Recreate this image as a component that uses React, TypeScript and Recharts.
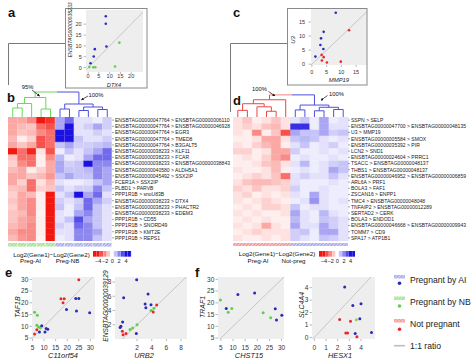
import React from 'react';
import { BarChart, Bar, Cell, XAxis, YAxis, ScatterChart, Scatter, CartesianGrid, ReferenceLine } from 'recharts';

const FONT = "'Liberation Sans', Arial, Helvetica, sans-serif";
const BLUE = '#2b2bb5';
const GREEN = '#5fcf4f';
const RED = '#e62a2a';
const DEN: Record<string, string> = { G: '#6ad85a', B: '#4f4fe0', R: '#ee4444', P: '#f28484' };

// ---------- heatmap b ----------
const bRowLabels = [
  'ENSBTAG00000047764 > ENSBTAG00000006110',
  'ENSBTAG00000047764 > ENSBTAG00000046928',
  'ENSBTAG00000047764 > EGR3',
  'ENSBTAG00000047764 > TMED8',
  'ENSBTAG00000047764 > B3GALT5',
  'ENSBTAG00000038233 > KLF11',
  'ENSBTAG00000038233 > FCAR',
  'ENSBTAG00000038233 > ENSBTAG00000038843',
  'ENSBTAG00000040580 > ALDH5A1',
  'ENSBTAG00000045492 > SSX2IP',
  'FCER1A > SSX2IP',
  'PLBD1 > PARVB',
  'PPP1R1B > snoU83B',
  'ENSBTAG00000038233 > DTX4',
  'ENSBTAG00000038233 > PHACTR2',
  'ENSBTAG00000038233 > EDEM3',
  'PPP1R1B > CD55',
  'PPP1R1B > SNORD49',
  'PPP1R1B > KMT2E',
  'PPP1R1B > REPS1',
];
const bValues = [
  [-1.5, -1.5, -2, -4, -3.5, 1.5, 2.5, 0.5, 0.5, 0.3, 0.8],
  [-1.5, -1.2, -1, -2.5, -3, 1.5, 4, 0.5, 0.8, 1.5, 0.8],
  [-1.5, -1, -1.2, -2, -2.5, 4, 4.5, 0.5, 0.5, 0.8, 0.5],
  [-1.2, -0.3, -0.8, -3, -2.5, 4, 4.5, 1, 0.5, 0.5, 0.8],
  [-1.5, -1, -1.5, -3, -2.5, 1, 1.5, 0.8, 0.8, 1, 1.2],
  [-4, -2.5, -3.8, -0.5, -3, 0.3, 1, 0.5, 1, 1.5, 2.5],
  [-1, -2.5, -2.5, -0.3, -2, 1.2, 0.3, 0.5, 1.5, 2.5, 2.5],
  [-0.8, -2, -2.5, -0.3, -1.5, 1.5, 0.8, 1, 4.5, 2, 2],
  [-1.2, -1.5, -0.3, -0.8, -1.5, 1.5, 1, 1, 1.2, 2, 1.5],
  [-1.5, -1.5, -1, -1.2, -1.8, 1, 1.5, 1, 1, 2, 1.5],
  [-1.5, -0.8, -2.5, -0.5, -1.2, 0.5, 0.3, 0.3, 0.5, 1, 1.5],
  [-1, -1.2, -2.5, -0.8, -1, 1, 0.5, 0.8, 0.8, 2, 1],
  [-0.8, -1.5, -1.2, -0.3, -4, 0.5, 1, 4.5, 1.5, 2.5, 0.5],
  [-1, -1.5, -2, -0.3, -4, 0.8, 0.5, 0.8, 2.5, 1.5, 0.8],
  [-0.8, -1.5, -2, -0.3, -4, 1, 0.3, 1, 2.5, 1, 0.5],
  [-1, -1.2, -2, -0.2, -4, 0.5, 0.3, 1.5, 2, 1, 0.5],
  [-1, -1.5, -1.8, -0.3, -4, 0.5, 1, 3, 1.5, 1, 0.5],
  [-1.2, -1.5, -2, -0.3, -4, 0.8, 0.5, 2.5, 2, 1, 0.5],
  [-1.5, -2, -2, -0.3, -4, 0.5, 0.5, 2, 2, 1.5, 0.5],
  [-1.2, -1.8, -2, -0.2, -4, 0.3, 0.5, 2, 2, 1, 0.5],
];
const bGroups = ['NB', 'NB', 'NB', 'NB', 'NB', 'AI', 'AI', 'AI', 'AI', 'AI', 'AI'];

// ---------- heatmap d ----------
const dRowLabels = [
  'SSPN > SELP',
  'ENSBTAG00000047700 > ENSBTAG00000048135',
  'U3 > MMP19',
  'ENSBTAG00000005584 > SMOX',
  'ENSBTAG00000035392 > PIR',
  'LCN2 > SND1',
  'ENSBTAG00000024604 > PRRC1',
  'TSACC > ENSBTAG00000048137',
  'THBS1 > ENSBTAG00000048137',
  'ENSBTAG00000046952 > ENSBTAG00000006859',
  'ARL6A > PRF1',
  'BOLA3 > FAF1',
  'ZSCAN16 > ENPP1',
  'TMC4 > ENSBTAG00000048048',
  'TNFAIP2 > ENSBTAG00000012289',
  'SERTAD2 > CERK',
  'BOLA3 > ENDOD1',
  'ENSBTAG00000046668 > ENSBTAG00000009943',
  'TOMM7 > CD9',
  'SPA17 > ATP1B1',
];
const dValues = [
  [-0.5, -1, -0.3, -0.5, -1, -0.5, 0.5, 1, 0.3, 1.5, 0.3, 0.5],
  [-0.5, -0.8, -0.5, -1, -1.2, -0.5, 3.5, 3.5, 0.3, 1.5, 0.5, 0.5],
  [-0.5, -0.3, -2, -0.3, -1, -3, 1.5, 1, 1, 1.5, 0.8, 1],
  [-0.3, -0.3, -0.5, -1.5, -1.5, -0.5, 1, 1.2, 1, 0.5, 0.3, 0.5],
  [-0.5, -0.3, -0.8, -1.2, -1.5, -0.3, 0.5, 1, 0.3, 0.5, 0.8, 0.3],
  [-0.8, -0.8, -0.3, -0.5, -1.5, -1.5, 0.8, 0.3, 0.3, 0.5, 0.3, 0.5],
  [-0.3, -0.5, -0.3, -0.8, -1.5, -2, 0.3, 0.5, 0.3, 0.3, 0.5, 0.3],
  [-0.3, -0.3, -0.5, -1, -1.2, -0.5, 0.5, 1.2, 0.3, 0.5, 0.8, 1],
  [-0.5, -0.3, -0.3, -0.5, -1.2, -0.3, 0.3, 0.5, 0.3, 0.5, 1.5, 1],
  [-0.3, -0.5, -0.8, -0.5, -1, -2.5, 0.5, 0.8, 0.5, 0.5, 1, 0.5],
  [-0.5, -1, -1.2, -1.2, -1, -0.8, 0.5, 0.3, 0.3, 0.3, 0.5, 0.3],
  [-0.8, -0.5, -1, -0.5, -0.5, -0.8, 0.8, 0.3, 0.3, 0.5, 0.3, 0.3],
  [-0.5, -0.8, -0.3, -0.5, -0.3, -0.5, 0.5, 0.3, 1.5, 0.5, 0.3, 0.3],
  [-0.5, -0.3, -0.5, -0.8, -0.5, -0.3, 0.3, 0.5, 1.8, 0.5, 0.3, 0.5],
  [-0.3, -0.5, -0.3, -0.8, -0.8, -0.5, 1, 0.3, 0.5, 0.5, 0.3, 0.3],
  [-0.5, -0.3, -0.5, -0.3, -0.3, -0.5, 1.5, 0.5, 0.3, 1.2, 0.5, 0.3],
  [-0.3, -0.5, -0.3, -0.5, -0.3, -0.3, 1.2, 0.5, 0.3, 1, 0.8, 0.5],
  [-0.5, -0.3, -0.5, -1.5, -0.5, -0.3, 1.5, 0.5, 0.5, 1.5, 0.8, 0.5],
  [-0.3, -0.5, -0.8, -0.5, -0.5, -0.5, 0.8, 1, 0.3, 1.5, 1.5, 0.5],
  [-0.5, -0.3, -0.3, -0.5, -0.3, -0.5, 0.8, 0.5, 0.3, 1, 0.8, 0.5],
];
const dGroups = ['NP', 'NP', 'NP', 'NP', 'NP', 'NP', 'AI', 'AI', 'AI', 'AI', 'AI', 'AI'];

// ---------- dendrograms ----------
type Merge = { id: string; a: number | string; b: number | string; h: number; c: string };
const bTree: Merge[] = [
  { id: 'g01', a: 0, b: 1, h: 1.8, c: 'G' },
  { id: 'g012', a: 'g01', b: 2, h: 2.7, c: 'G' },
  { id: 'g34', a: 3, b: 4, h: 1.6, c: 'G' },
  { id: 'gAll', a: 'g012', b: 'g34', h: 3.9, c: 'G' },
  { id: 'b56', a: 5, b: 6, h: 1.6, c: 'B' },
  { id: 'b78', a: 7, b: 8, h: 1.3, c: 'B' },
  { id: 'b910', a: 9, b: 10, h: 1.5, c: 'B' },
  { id: 'b7_10', a: 'b78', b: 'b910', h: 2.0, c: 'B' },
  { id: 'bAll', a: 'b56', b: 'b7_10', h: 2.6, c: 'B' },
  { id: 'root', a: 'gAll', b: 'bAll', h: 5, c: 'G|B' },
];
const dTree: Merge[] = [
  { id: 'r01', a: 0, b: 1, h: 1.5, c: 'R' },
  { id: 'r34', a: 3, b: 4, h: 1.3, c: 'R' },
  { id: 'r2_34', a: 2, b: 'r34', h: 2.3, c: 'R' },
  { id: 'r0_4', a: 'r01', b: 'r2_34', h: 3.0, c: 'R' },
  { id: 'rAll', a: 'r0_4', b: 5, h: 3.9, c: 'R' },
  { id: 'b67', a: 6, b: 7, h: 1.6, c: 'B' },
  { id: 'b89', a: 8, b: 9, h: 1.4, c: 'B' },
  { id: 'b1011', a: 10, b: 11, h: 1.7, c: 'B' },
  { id: 'b8_11', a: 'b89', b: 'b1011', h: 2.2, c: 'B' },
  { id: 'bAll', a: 'b67', b: 'b8_11', h: 2.7, c: 'B' },
  { id: 'root', a: 'rAll', b: 'bAll', h: 5, c: 'P|B' },
];

// ---------- scatter data ----------
const aBlue = [{ x: 8.2, y: 23.6 }, { x: 8.2, y: 20.2 }, { x: 3.1, y: 8.5 }, { x: 8.5, y: 9.7 }, { x: 2.6, y: 5.1 }, { x: 1.1, y: 2.0 }];
const aGreen = [{ x: 0.5, y: 0.3 }, { x: 2.4, y: 0.2 }, { x: 3.3, y: 0.2 }, { x: 12.5, y: 0.5 }, { x: 14.5, y: 11.5 }];
const cBlue = [{ x: 8.1, y: 18.3 }, { x: 4, y: 11.5 }, { x: 3.1, y: 9.2 }, { x: 2.9, y: 6.8 }, { x: 3.9, y: 5.4 }, { x: 1.2, y: 2.7 }];
const cRed = [{ x: 12.6, y: 12.1 }, { x: 3.3, y: 3.3 }, { x: 4, y: 2.5 }, { x: 3.4, y: 1.3 }, { x: 5.1, y: 0.6 }, { x: 9.8, y: 0.9 }];
const e1Red = [{ x: 25, y: 29.8 }, { x: 17.3, y: 21.7 }, { x: 18.7, y: 21.7 }, { x: 18.2, y: 20 }, { x: 6.9, y: 8.5 }, { x: 5.9, y: 6.7 }];
const e1Blue = [{ x: 23.7, y: 21.8 }, { x: 25, y: 21.8 }, { x: 19.7, y: 17.2 }, { x: 24, y: 16.5 }, { x: 29.7, y: 15.8 }, { x: 9, y: 10.2 }, { x: 10.9, y: 9.1 }, { x: 11.6, y: 8.8 }, { x: 8, y: 7.6 }, { x: 10.4, y: 7.6 }];
const e1Green = [{ x: 5.9, y: 16 }, { x: 7.1, y: 14.7 }, { x: 6.9, y: 10.5 }, { x: 7.6, y: 9.7 }, { x: 8.3, y: 9.5 }];
const e2Blue = [{ x: 1.95, y: 8.3 }, { x: 0.18, y: 5.8 }, { x: 3.5, y: 6.3 }, { x: 3.1, y: 4.9 }, { x: 3.2, y: 4.4 }, { x: 3.9, y: 4.8 }, { x: 0.04, y: 2.4 }, { x: -0.2, y: 1.8 }, { x: -0.3, y: 1.6 }, { x: 1.9, y: 0.76 }];
const e2Red = [{ x: 4.67, y: 4.76 }, { x: 4.2, y: 3.8 }, { x: 0, y: 1.1 }, { x: 0.1, y: 0.6 }, { x: 0.5, y: 0.76 }];
const e2Green = [{ x: 3.9, y: 4.0 }, { x: 4.3, y: 4.3 }, { x: 2, y: 2 }, { x: 1.4, y: 1.56 }, { x: 1.05, y: 1.33 }];
const f1Blue = [{ x: 7.2, y: 17.6 }, { x: 12, y: 23.5 }, { x: 18.9, y: 24.2 }, { x: 27.4, y: 17.5 }, { x: 30.1, y: 14.7 }, { x: 27.9, y: 12.7 }];
const f1Green = [{ x: 4.8, y: 21.2 }, { x: 9.5, y: 17.6 }, { x: 8, y: 16 }, { x: 22.4, y: 15.8 }, { x: 25.5, y: 13.7 }];
const f2Blue = [{ x: 2.6, y: 4.05 }, { x: 3.3, y: 2.57 }, { x: 4.0, y: 2.7 }, { x: 3.9, y: 1.49 }, { x: 3.5, y: 0.32 }, { x: 4.9, y: 0.4 }];
const f2Red = [{ x: 2.17, y: 1.43 }, { x: 3.1, y: 1.3 }, { x: 2.7, y: 0.35 }, { x: 2.85, y: 0.35 }, { x: 3.65, y: 0.05 }];
const f2Green = [{ x: 3.6, y: 1.41 }];

const ticks0to20 = [0, 5, 10, 15, 20];
const ticks0to15 = [0, 5, 10, 15];
const ticks5to30 = [5, 10, 15, 20, 25, 30];
const ticks2to8 = [2, 4, 6, 8];
const ticks0to4 = [0, 1, 2, 3, 4];

const colorbarKeys = [-5, -4, -3, -2, -1, 0, 1, 2, 3, 4, 5];
const colorbarLabels: Record<number, string> = { [-4]: '\u22124', [-2]: '\u22122', 0: '0', 2: '2', 4: '4' };

function heat(v: number): string {
  const t = Math.min(Math.abs(v) / 4, 1);
  if (v < 0) {
    return `rgb(${Math.round(255 - 12 * t)},${Math.round(255 - 232 * t)},${Math.round(255 - 240 * t)})`;
  }
  return `rgb(${Math.round(255 - 228 * t)},${Math.round(255 - 238 * t)},${Math.round(255 - 30 * t)})`;
}

const hatch: Record<string, string> = { NB: 'url(#hG)', AI: 'url(#hB)', NP: 'url(#hR)' };

function Heatmap({ left, top, cellW, rowH, values, labels, labelW }: any) {
  const nRows = values.length;
  const nCols = values[0].length;
  const data = Array.from({ length: nCols }, (_, j) => {
    const o: any = { col: j };
    for (let i = 0; i < nRows; i++) o['r' + i] = 1;
    return o;
  });
  const tickVals = Array.from({ length: nRows }, (_, i) => nRows - 0.5 - i);
  const order = Array.from({ length: nRows }, (_, i) => nRows - 1 - i);
  return (
    <div style={{ position: 'absolute', left, top }}>
      <BarChart width={cellW * nCols + labelW} height={rowH * nRows} data={data} margin={{ top: 0, right: 0, bottom: 0, left: 0 }} barCategoryGap={0} barGap={0}>
        <XAxis dataKey="col" hide />
        <YAxis
          orientation="right"
          type="number"
          domain={[0, nRows]}
          ticks={tickVals}
          interval={0}
          width={labelW}
          axisLine={false}
          tickSize={2}
          tickMargin={1}
          tickLine={{ stroke: '#555', strokeWidth: 0.5 }}
          tick={(p: any) => (
            <text x={p.x} y={p.y} dy={1.8} fontSize={5.05} fill="#222" fontFamily={FONT} textAnchor="start">
              {labels[nRows - 1 - Math.floor(p.payload.value)]}
            </text>
          )}
        />
        {order.map((i) => (
          <Bar key={i} dataKey={'r' + i} stackId="s" isAnimationActive={false}>
            {data.map((_, j) => (
              <Cell key={j} fill={heat(values[i][j])} stroke={heat(values[i][j])} strokeWidth={0.4} />
            ))}
          </Bar>
        ))}
      </BarChart>
    </div>
  );
}

function GroupBar({ left, top, width, height, groups }: any) {
  const data = groups.map((g: string, j: number) => ({ col: j, v: 1, g }));
  return (
    <div style={{ position: 'absolute', left, top }}>
      <BarChart width={width} height={height} data={data} margin={{ top: 0, right: 0, bottom: 0, left: 0 }} barCategoryGap={0} barGap={0}>
        <XAxis dataKey="col" hide />
        <YAxis hide domain={[0, 1]} />
        <Bar dataKey="v" isAnimationActive={false}>
          {data.map((d: any, j: number) => (
            <Cell key={j} fill={hatch[d.g]} />
          ))}
        </Bar>
      </BarChart>
    </div>
  );
}

function ColorBar({ left, top, width }: any) {
  const data = colorbarKeys.map((k) => ({ k, v: 1 }));
  return (
    <div style={{ position: 'absolute', left, top }}>
      <BarChart width={width} height={14} data={data} margin={{ top: 0, right: 0, bottom: 0, left: 0 }} barCategoryGap={0} barGap={0}>
        <XAxis
          dataKey="k"
          interval={0}
          height={8.5}
          axisLine={false}
          tickLine={false}
          tickSize={0}
          tickMargin={2.5}
          tick={(p: any) => (
            <text x={p.x} y={p.y} dy={4} fontSize={5.6} fill="#222" fontFamily={FONT} textAnchor="middle">
              {colorbarLabels[p.payload.value] ?? ''}
            </text>
          )}
        />
        <YAxis hide domain={[0, 1]} />
        <Bar dataKey="v" isAnimationActive={false}>
          {data.map((d, j) => (
            <Cell key={j} fill={heat(d.k)} stroke={heat(d.k)} strokeWidth={0.3} />
          ))}
        </Bar>
      </BarChart>
    </div>
  );
}

function Dendrogram({ left, top, width, height, n, tree, hMax }: any) {
  const pos: Record<string, { x: number; h: number; c: string }> = {};
  const get = (k: number | string) => (typeof k === 'number' ? { x: k, h: 0, c: '' } : pos[k]);
  const segs: { x1: number; y1: number; x2: number; y2: number; c: string }[] = [];
  tree.forEach((m: Merge) => {
    const A = get(m.a);
    const B = get(m.b);
    const split = m.c.includes('|');
    const [cl, cr] = split ? m.c.split('|') : [m.c, m.c];
    const mid = (A.x + B.x) / 2;
    segs.push({ x1: A.x, y1: A.h, x2: A.x, y2: m.h, c: split ? A.c.replace('G', 'G') : cl });
    segs.push({ x1: B.x, y1: B.h, x2: B.x, y2: m.h, c: cr });
    if (split) {
      segs.push({ x1: A.x, y1: m.h, x2: mid, y2: m.h, c: cl });
      segs.push({ x1: mid, y1: m.h, x2: B.x, y2: m.h, c: cr });
    } else {
      segs.push({ x1: A.x, y1: m.h, x2: B.x, y2: m.h, c: m.c });
    }
    pos[m.id] = { x: mid, h: m.h, c: m.c };
  });
  const leaves = Array.from({ length: n }, (_, i) => ({ x: i, y: 0 }));
  return (
    <div style={{ position: 'absolute', left, top }}>
      <ScatterChart width={width} height={height} margin={{ top: 0, right: 0, bottom: 0, left: 0 }}>
        <XAxis type="number" dataKey="x" domain={[-0.5, n - 0.5]} hide />
        <YAxis type="number" dataKey="y" domain={[0, hMax]} hide />
        <Scatter data={leaves} isAnimationActive={false} shape={() => <g />} />
        {segs.map((s, i) => (
          <ReferenceLine key={i} segment={[{ x: s.x1, y: s.y1 }, { x: s.x2, y: s.y2 }]} stroke={DEN[s.c]} strokeWidth={1} ifOverflow="visible" />
        ))}
      </ScatterChart>
    </div>
  );
}

function ScatterPanel(p: any) {
  const lo = Math.min(p.xd[0], p.yd[0]) - 5;
  const hi = Math.max(p.xd[1], p.yd[1]) + 5;
  const tickStyle = { fontSize: p.fs, fill: '#333', fontFamily: FONT };
  return (
    <div style={{ position: 'absolute', left: p.left, top: p.top }}>
      <ScatterChart width={p.w} height={p.h} margin={{ top: p.mt, right: p.mr, bottom: 0, left: 0 }}>
        <CartesianGrid fill="#eeeeee" stroke="none" horizontal={false} vertical={false} />
        <XAxis type="number" dataKey="x" domain={p.xd} ticks={p.xt} allowDataOverflow interval={0} axisLine={false} tickSize={2} tickMargin={p.xtm} height={p.xH} tick={tickStyle} tickLine={{ stroke: '#888', strokeWidth: 0.6 }} />
        <YAxis type="number" dataKey="y" domain={p.yd} ticks={p.yt} allowDataOverflow interval={0} axisLine={false} tickSize={2.5} tickMargin={p.ytm} width={p.yW} tick={tickStyle} tickLine={{ stroke: '#888', strokeWidth: 0.6 }} />
        <ReferenceLine segment={[{ x: lo, y: lo }, { x: hi, y: hi }]} stroke="#c6c6c6" strokeWidth={1} ifOverflow="hidden" />
        {p.series.map((s: any, i: number) => (
          <Scatter key={i} data={s.data} fill={s.color} isAnimationActive={false} shape={(sp: any) => <circle cx={sp.cx} cy={sp.cy} r={p.r} fill={s.color} />} />
        ))}
      </ScatterChart>
    </div>
  );
}

function RotText({ x, y, size, children }: any) {
  return (
    <text transform={`translate(${x},${y}) rotate(-90)`} textAnchor="middle" dominantBaseline="central" fontSize={size} fontStyle="italic" fill="#222" fontFamily={FONT}>
      {children}
    </text>
  );
}

function Arrow({ x1, y1, x2, y2 }: any) {
  return <line x1={x1} y1={y1} x2={x2} y2={y2} stroke="#111" strokeWidth={0.7} markerEnd="url(#arr)" />;
}

export default function App() {
  const bCell = 104 / 11;
  const dCell = 115 / 12;
  const rowH = 6.2;
  return (
    <div style={{ position: 'absolute', left: 0, top: 0, width: 474, height: 361, background: '#fff', fontFamily: FONT, overflow: 'hidden' }}>
      <svg width={0} height={0} style={{ position: 'absolute' }}>
        <defs>
          <pattern id="hG" width="2.4" height="2.4" patternUnits="userSpaceOnUse" patternTransform="rotate(45)">
            <rect width="2.4" height="2.4" fill="#a6e39a" />
            <line x1="0" y1="0" x2="0" y2="2.4" stroke="#ffffff" strokeWidth="0.9" />
          </pattern>
          <pattern id="hB" width="2.4" height="2.4" patternUnits="userSpaceOnUse" patternTransform="rotate(45)">
            <rect width="2.4" height="2.4" fill="#a9aef0" />
            <line x1="0" y1="0" x2="0" y2="2.4" stroke="#ffffff" strokeWidth="0.9" />
          </pattern>
          <pattern id="hR" width="2.4" height="2.4" patternUnits="userSpaceOnUse" patternTransform="rotate(45)">
            <rect width="2.4" height="2.4" fill="#f49a9a" />
            <line x1="0" y1="0" x2="0" y2="2.4" stroke="#ffffff" strokeWidth="0.9" />
          </pattern>
          <marker id="arr" viewBox="0 0 6 6" refX="5" refY="3" markerWidth="4" markerHeight="4" orient="auto">
            <path d="M0,0 L6,3 L0,6 z" fill="#111" />
          </marker>
        </defs>
      </svg>

      <Dendrogram left={8} top={91} width={104} height={26} n={11} tree={bTree} hMax={5.2} />
      <Heatmap left={8} top={117} cellW={bCell} rowH={rowH} values={bValues} labels={bRowLabels} labelW={125} />
      <GroupBar left={8} top={243} width={104} height={3.6} groups={bGroups} />
      <ColorBar left={93.3} top={251} width={38.4} />

      <Dendrogram left={233} top={94} width={115} height={23} n={12} tree={dTree} hMax={5.2} />
      <Heatmap left={233} top={117} cellW={dCell} rowH={rowH} values={dValues} labels={dRowLabels} labelW={124} />
      <GroupBar left={233} top={243} width={115} height={3.4} groups={dGroups} />
      <ColorBar left={318.7} top={250.5} width={36.6} />

      <ScatterPanel left={65} top={8} w={82} h={80} mt={2} mr={4} yW={21} xH={16} xd={[-1, 25.5]} yd={[-2, 26.5]} xt={ticks0to20} yt={ticks0to20} fs={5.5} xtm={0.3} ytm={1.8} r={1.3} series={[{ data: aGreen, color: GREEN }, { data: aBlue, color: BLUE }]} />
      <ScatterPanel left={287} top={8} w={80} h={77} mt={0} mr={0} yW={24} xH={20} xd={[-0.3, 18.7]} yd={[-0.3, 20]} xt={ticks0to15} yt={ticks0to15} fs={5.5} xtm={2.8} ytm={3.5} r={1.3} series={[{ data: cRed, color: RED }, { data: cBlue, color: BLUE }]} />

      <ScatterPanel left={0} top={270} w={98} h={85} mt={7} mr={3} yW={32} xH={16} xd={[4.8, 32]} yd={[4.6, 31]} xt={ticks5to30} yt={ticks5to30} fs={6.5} xtm={4} ytm={1.2} r={1.5} series={[{ data: e1Green, color: GREEN }, { data: e1Red, color: RED }, { data: e1Blue, color: BLUE }]} />
      <ScatterPanel left={83} top={270} w={107} h={85} mt={7} mr={3} yW={32} xH={16} xd={[-1, 8.8]} yd={[0, 8.7]} xt={ticks2to8} yt={ticks2to8} fs={6.5} xtm={4} ytm={1.2} r={1.5} series={[{ data: e2Green, color: GREEN }, { data: e2Red, color: RED }, { data: e2Blue, color: BLUE }]} />
      <ScatterPanel left={186} top={270} w={101} h={85} mt={7} mr={3} yW={32} xH={16} xd={[3.8, 31]} yd={[4.6, 31]} xt={ticks5to30} yt={ticks5to30} fs={6.5} xtm={4} ytm={1.2} r={1.5} series={[{ data: f1Green, color: GREEN }, { data: f1Blue, color: BLUE }]} />
      <ScatterPanel left={280} top={270} w={98} h={85} mt={7} mr={3} yW={32} xH={16} xd={[-0.2, 5.2]} yd={[-0.13, 4.86]} xt={ticks0to4} yt={ticks0to4} fs={6.5} xtm={4} ytm={1.2} r={1.5} series={[{ data: f2Green, color: '#9ccf3a' }, { data: f2Red, color: RED }, { data: f2Blue, color: BLUE }]} />

      <svg width={474} height={361} style={{ position: 'absolute', left: 0, top: 0, pointerEvents: 'none' }}>
        {/* inset frames and connectors */}
        <rect x={65.5} y={8.5} width={81.5} height={79.5} fill="none" stroke="#8a8a8a" strokeWidth={1} />
        <rect x={287.5} y={8.5} width={79.5} height={76.5} fill="none" stroke="#8a8a8a" strokeWidth={1} />
        <polyline points="65,43.5 8.5,43.5 8.5,85" fill="none" stroke="#6a6a6a" strokeWidth={0.9} />
        <polyline points="287,43.5 230.5,43.5 230.5,112" fill="none" stroke="#6a6a6a" strokeWidth={0.9} />

        {/* panel letters */}
        <g fontFamily={FONT} fontWeight="bold" fontSize={13} fill="#111">
          <text x={8} y={17}>a</text>
          <text x={7} y={101.5}>b</text>
          <text x={233} y={17}>c</text>
          <text x={233} y={105}>d</text>
          <text x={5} y={277}>e</text>
          <text x={195} y={277}>f</text>
        </g>

        {/* dendrogram annotations */}
        <g fontFamily={FONT} fontSize={5.8} fill="#111">
          <text x={27.5} y={89} textAnchor="middle">95%</text>
          <text x={96} y={97} textAnchor="middle">100%</text>
          <text x={259.5} y={91} textAnchor="middle">100%</text>
          <text x={336.5} y={95.5} textAnchor="middle">100%</text>
        </g>
        <Arrow x1={32} y1={90} x2={39.5} y2={96} />
        <Arrow x1={88} y1={96} x2={81.5} y2={99.8} />
        <Arrow x1={268.5} y1={91.5} x2={274.8} y2={95.8} />
        <Arrow x1={327.5} y1={95.5} x2={321} y2={100.3} />

        {/* heatmap legends */}
        <g fontFamily={FONT} fontSize={6.2} fill="#111" textAnchor="middle">
          <text x={51.5} y={257.2}>Log2(Gene1)−Log2(Gene2)</text>
          <text x={30.5} y={263.2}>Preg-AI</text>
          <text x={67.5} y={263.2}>Preg-NB</text>
          <text x={277} y={256.2}>Log2(Gene1)−Log2(Gene2)</text>
          <text x={258} y={263.2}>Preg-AI</text>
          <text x={293.5} y={263.2}>Not-preg</text>
        </g>

        {/* axis titles */}
        <g fontFamily={FONT} fontStyle="italic" fill="#222" textAnchor="middle">
          <RotText x={70} y={30} size={5.1}>ENSBTAG00000038233</RotText>
          <text x={114} y={86.5} fontSize={5.6}>DTX4</text>
          <RotText x={292.5} y={40} size={6}>U3</RotText>
          <text x={339} y={82} fontSize={5.9}>MMP19</text>
          <RotText x={17.5} y={307} size={7}>TAF1B</RotText>
          <text x={63} y={357.5} fontSize={7.4}>C11orf54</text>
          <RotText x={105.5} y={306} size={6.6}>ENSBTAG00000039129</RotText>
          <text x={144} y={357.5} fontSize={7.4}>URB2</text>
          <RotText x={202.5} y={307} size={7}>TRAF1</RotText>
          <text x={249} y={357.5} fontSize={7.4}>CHST15</text>
          <RotText x={301.5} y={305} size={7}>SLC4A4</RotText>
          <text x={340} y={357.5} fontSize={7.4}>HESX1</text>
        </g>

        {/* legend */}
        <rect x={394} y={275} width={11} height={3.5} fill="url(#hB)" />
        <circle cx={399.5} cy={283.3} r={1.8} fill={BLUE} />
        <rect x={394} y={296.5} width={11} height={3.5} fill="url(#hG)" />
        <circle cx={399.5} cy={306} r={1.8} fill={GREEN} />
        <rect x={394} y={319} width={11} height={3.5} fill="url(#hR)" />
        <circle cx={399.5} cy={329.3} r={1.8} fill={RED} />
        <line x1={394} y1={345.7} x2={405} y2={345.7} stroke="#bdbdbd" strokeWidth={1.6} />
        <g fontFamily={FONT} fontSize={8.6} fill="#222">
          <text x={410} y={283}>Pregnant by AI</text>
          <text x={410} y={304.8}>Pregnant by NB</text>
          <text x={410} y={326.5}>Not pregnant</text>
          <text x={410} y={349}>1:1 ratio</text>
        </g>
      </svg>
    </div>
  );
}
